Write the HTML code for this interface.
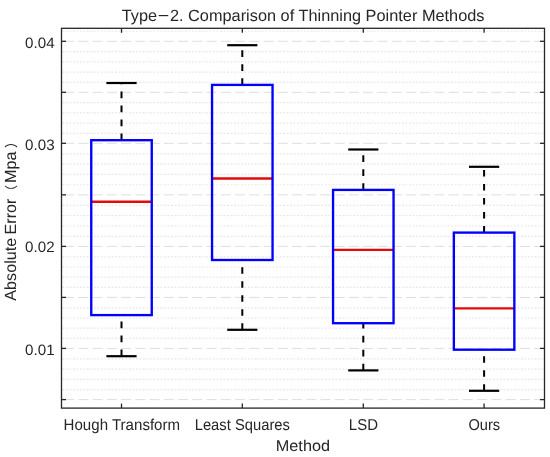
<!DOCTYPE html><html><head><meta charset="utf-8"><style>html,body{margin:0;padding:0;background:#fff;}svg{display:block;text-rendering:geometricPrecision;}text{font-family:"Liberation Sans","Noto Sans CJK SC",sans-serif;fill:#262626;}</style></head><body>
<svg width="550" height="457" viewBox="0 0 550 457">
<rect width="550" height="457" fill="#fff"/>
<line x1="62.5" y1="389.56" x2="543.5" y2="389.56" stroke="#ebe3e6" stroke-width="1.2" stroke-dasharray="1.75 1.75"/>
<line x1="62.5" y1="379.32" x2="543.5" y2="379.32" stroke="#ebe3e6" stroke-width="1.2" stroke-dasharray="1.75 1.75"/>
<line x1="62.5" y1="369.08" x2="543.5" y2="369.08" stroke="#ebe3e6" stroke-width="1.2" stroke-dasharray="1.75 1.75"/>
<line x1="62.5" y1="358.84" x2="543.5" y2="358.84" stroke="#ebe3e6" stroke-width="1.2" stroke-dasharray="1.75 1.75"/>
<line x1="62.5" y1="338.40" x2="543.5" y2="338.40" stroke="#ebe3e6" stroke-width="1.2" stroke-dasharray="1.75 1.75"/>
<line x1="62.5" y1="328.20" x2="543.5" y2="328.20" stroke="#ebe3e6" stroke-width="1.2" stroke-dasharray="1.75 1.75"/>
<line x1="62.5" y1="318.00" x2="543.5" y2="318.00" stroke="#ebe3e6" stroke-width="1.2" stroke-dasharray="1.75 1.75"/>
<line x1="62.5" y1="307.80" x2="543.5" y2="307.80" stroke="#ebe3e6" stroke-width="1.2" stroke-dasharray="1.75 1.75"/>
<line x1="62.5" y1="287.40" x2="543.5" y2="287.40" stroke="#ebe3e6" stroke-width="1.2" stroke-dasharray="1.75 1.75"/>
<line x1="62.5" y1="277.20" x2="543.5" y2="277.20" stroke="#ebe3e6" stroke-width="1.2" stroke-dasharray="1.75 1.75"/>
<line x1="62.5" y1="267.00" x2="543.5" y2="267.00" stroke="#ebe3e6" stroke-width="1.2" stroke-dasharray="1.75 1.75"/>
<line x1="62.5" y1="256.80" x2="543.5" y2="256.80" stroke="#ebe3e6" stroke-width="1.2" stroke-dasharray="1.75 1.75"/>
<line x1="62.5" y1="236.29" x2="543.5" y2="236.29" stroke="#ebe3e6" stroke-width="1.2" stroke-dasharray="1.75 1.75"/>
<line x1="62.5" y1="225.98" x2="543.5" y2="225.98" stroke="#ebe3e6" stroke-width="1.2" stroke-dasharray="1.75 1.75"/>
<line x1="62.5" y1="215.67" x2="543.5" y2="215.67" stroke="#ebe3e6" stroke-width="1.2" stroke-dasharray="1.75 1.75"/>
<line x1="62.5" y1="205.36" x2="543.5" y2="205.36" stroke="#ebe3e6" stroke-width="1.2" stroke-dasharray="1.75 1.75"/>
<line x1="62.5" y1="184.74" x2="543.5" y2="184.74" stroke="#ebe3e6" stroke-width="1.2" stroke-dasharray="1.75 1.75"/>
<line x1="62.5" y1="174.43" x2="543.5" y2="174.43" stroke="#ebe3e6" stroke-width="1.2" stroke-dasharray="1.75 1.75"/>
<line x1="62.5" y1="164.12" x2="543.5" y2="164.12" stroke="#ebe3e6" stroke-width="1.2" stroke-dasharray="1.75 1.75"/>
<line x1="62.5" y1="153.81" x2="543.5" y2="153.81" stroke="#ebe3e6" stroke-width="1.2" stroke-dasharray="1.75 1.75"/>
<line x1="62.5" y1="133.30" x2="543.5" y2="133.30" stroke="#ebe3e6" stroke-width="1.2" stroke-dasharray="1.75 1.75"/>
<line x1="62.5" y1="123.10" x2="543.5" y2="123.10" stroke="#ebe3e6" stroke-width="1.2" stroke-dasharray="1.75 1.75"/>
<line x1="62.5" y1="112.90" x2="543.5" y2="112.90" stroke="#ebe3e6" stroke-width="1.2" stroke-dasharray="1.75 1.75"/>
<line x1="62.5" y1="102.70" x2="543.5" y2="102.70" stroke="#ebe3e6" stroke-width="1.2" stroke-dasharray="1.75 1.75"/>
<line x1="62.5" y1="82.30" x2="543.5" y2="82.30" stroke="#ebe3e6" stroke-width="1.2" stroke-dasharray="1.75 1.75"/>
<line x1="62.5" y1="72.10" x2="543.5" y2="72.10" stroke="#ebe3e6" stroke-width="1.2" stroke-dasharray="1.75 1.75"/>
<line x1="62.5" y1="61.90" x2="543.5" y2="61.90" stroke="#ebe3e6" stroke-width="1.2" stroke-dasharray="1.75 1.75"/>
<line x1="62.5" y1="51.70" x2="543.5" y2="51.70" stroke="#ebe3e6" stroke-width="1.2" stroke-dasharray="1.75 1.75"/>
<line x1="62.5" y1="31.26" x2="543.5" y2="31.26" stroke="#ebe3e6" stroke-width="1.2" stroke-dasharray="1.75 1.75"/>
<line x1="62.5" y1="399.60" x2="543.5" y2="399.60" stroke="#dedede" stroke-width="1.0" stroke-dasharray="10 4.24" stroke-dashoffset="12.58"/>
<line x1="62.5" y1="348.40" x2="543.5" y2="348.40" stroke="#dedede" stroke-width="1.0" stroke-dasharray="10 4.24" stroke-dashoffset="12.58"/>
<line x1="62.5" y1="297.40" x2="543.5" y2="297.40" stroke="#dedede" stroke-width="1.0" stroke-dasharray="10 4.24" stroke-dashoffset="12.58"/>
<line x1="62.5" y1="246.40" x2="543.5" y2="246.40" stroke="#dedede" stroke-width="1.0" stroke-dasharray="10 4.24" stroke-dashoffset="12.58"/>
<line x1="62.5" y1="194.85" x2="543.5" y2="194.85" stroke="#dedede" stroke-width="1.0" stroke-dasharray="10 4.24" stroke-dashoffset="12.58"/>
<line x1="62.5" y1="143.30" x2="543.5" y2="143.30" stroke="#dedede" stroke-width="1.0" stroke-dasharray="10 4.24" stroke-dashoffset="12.58"/>
<line x1="62.5" y1="92.30" x2="543.5" y2="92.30" stroke="#dedede" stroke-width="1.0" stroke-dasharray="10 4.24" stroke-dashoffset="12.58"/>
<line x1="62.5" y1="41.30" x2="543.5" y2="41.30" stroke="#dedede" stroke-width="1.0" stroke-dasharray="10 4.24" stroke-dashoffset="12.58"/>
<line x1="121.5" y1="140.2" x2="121.5" y2="83.0" stroke="#000" stroke-width="2" stroke-dasharray="6.6 7.4"/>
<line x1="121.5" y1="356.2" x2="121.5" y2="315.1" stroke="#000" stroke-width="2" stroke-dasharray="6.6 7.4"/>
<line x1="106.4" y1="83.0" x2="136.6" y2="83.0" stroke="#000" stroke-width="2.2"/>
<line x1="106.4" y1="356.2" x2="136.6" y2="356.2" stroke="#000" stroke-width="2.2"/>
<line x1="91.25" y1="201.8" x2="151.75" y2="201.8" stroke="#e40a0a" stroke-width="2.4"/>
<rect x="91.25" y="140.2" width="60.5" height="174.90000000000003" fill="none" stroke="#0000ff" stroke-width="2.35"/>
<line x1="242.3" y1="84.9" x2="242.3" y2="45.2" stroke="#000" stroke-width="2" stroke-dasharray="6.6 7.4"/>
<line x1="242.3" y1="329.8" x2="242.3" y2="260.0" stroke="#000" stroke-width="2" stroke-dasharray="6.6 7.4"/>
<line x1="227.20000000000002" y1="45.2" x2="257.40000000000003" y2="45.2" stroke="#000" stroke-width="2.2"/>
<line x1="227.20000000000002" y1="329.8" x2="257.40000000000003" y2="329.8" stroke="#000" stroke-width="2.2"/>
<line x1="212.05" y1="178.5" x2="272.55" y2="178.5" stroke="#e40a0a" stroke-width="2.4"/>
<rect x="212.05" y="84.9" width="60.5" height="175.1" fill="none" stroke="#0000ff" stroke-width="2.35"/>
<line x1="363.3" y1="189.9" x2="363.3" y2="149.5" stroke="#000" stroke-width="2" stroke-dasharray="6.6 7.4"/>
<line x1="363.3" y1="370.4" x2="363.3" y2="323.2" stroke="#000" stroke-width="2" stroke-dasharray="6.6 7.4"/>
<line x1="348.2" y1="149.5" x2="378.40000000000003" y2="149.5" stroke="#000" stroke-width="2.2"/>
<line x1="348.2" y1="370.4" x2="378.40000000000003" y2="370.4" stroke="#000" stroke-width="2.2"/>
<line x1="333.05" y1="249.9" x2="393.55" y2="249.9" stroke="#e40a0a" stroke-width="2.4"/>
<rect x="333.05" y="189.9" width="60.5" height="133.29999999999998" fill="none" stroke="#0000ff" stroke-width="2.35"/>
<line x1="484.1" y1="232.6" x2="484.1" y2="166.8" stroke="#000" stroke-width="2" stroke-dasharray="6.6 7.4"/>
<line x1="484.1" y1="390.8" x2="484.1" y2="349.7" stroke="#000" stroke-width="2" stroke-dasharray="6.6 7.4"/>
<line x1="469.0" y1="166.8" x2="499.20000000000005" y2="166.8" stroke="#000" stroke-width="2.2"/>
<line x1="469.0" y1="390.8" x2="499.20000000000005" y2="390.8" stroke="#000" stroke-width="2.2"/>
<line x1="453.85" y1="308.4" x2="514.35" y2="308.4" stroke="#e40a0a" stroke-width="2.4"/>
<rect x="453.85" y="232.6" width="60.5" height="117.1" fill="none" stroke="#0000ff" stroke-width="2.35"/>
<rect x="61.5" y="28.3" width="483.0" height="379.8" fill="none" stroke="#262626" stroke-width="1.3"/>
<line x1="61.5" y1="399.60" x2="66.0" y2="399.60" stroke="#262626" stroke-width="1.3"/>
<line x1="544.5" y1="399.60" x2="540.0" y2="399.60" stroke="#262626" stroke-width="1.3"/>
<line x1="61.5" y1="348.40" x2="66.0" y2="348.40" stroke="#262626" stroke-width="1.3"/>
<line x1="544.5" y1="348.40" x2="540.0" y2="348.40" stroke="#262626" stroke-width="1.3"/>
<line x1="61.5" y1="297.40" x2="66.0" y2="297.40" stroke="#262626" stroke-width="1.3"/>
<line x1="544.5" y1="297.40" x2="540.0" y2="297.40" stroke="#262626" stroke-width="1.3"/>
<line x1="61.5" y1="246.40" x2="66.0" y2="246.40" stroke="#262626" stroke-width="1.3"/>
<line x1="544.5" y1="246.40" x2="540.0" y2="246.40" stroke="#262626" stroke-width="1.3"/>
<line x1="61.5" y1="194.85" x2="66.0" y2="194.85" stroke="#262626" stroke-width="1.3"/>
<line x1="544.5" y1="194.85" x2="540.0" y2="194.85" stroke="#262626" stroke-width="1.3"/>
<line x1="61.5" y1="143.30" x2="66.0" y2="143.30" stroke="#262626" stroke-width="1.3"/>
<line x1="544.5" y1="143.30" x2="540.0" y2="143.30" stroke="#262626" stroke-width="1.3"/>
<line x1="61.5" y1="92.30" x2="66.0" y2="92.30" stroke="#262626" stroke-width="1.3"/>
<line x1="544.5" y1="92.30" x2="540.0" y2="92.30" stroke="#262626" stroke-width="1.3"/>
<line x1="61.5" y1="41.30" x2="66.0" y2="41.30" stroke="#262626" stroke-width="1.3"/>
<line x1="544.5" y1="41.30" x2="540.0" y2="41.30" stroke="#262626" stroke-width="1.3"/>
<line x1="121.5" y1="408.1" x2="121.5" y2="403.6" stroke="#262626" stroke-width="1.3"/>
<line x1="121.5" y1="28.3" x2="121.5" y2="32.8" stroke="#262626" stroke-width="1.3"/>
<line x1="242.3" y1="408.1" x2="242.3" y2="403.6" stroke="#262626" stroke-width="1.3"/>
<line x1="242.3" y1="28.3" x2="242.3" y2="32.8" stroke="#262626" stroke-width="1.3"/>
<line x1="363.3" y1="408.1" x2="363.3" y2="403.6" stroke="#262626" stroke-width="1.3"/>
<line x1="363.3" y1="28.3" x2="363.3" y2="32.8" stroke="#262626" stroke-width="1.3"/>
<line x1="484.1" y1="408.1" x2="484.1" y2="403.6" stroke="#262626" stroke-width="1.3"/>
<line x1="484.1" y1="28.3" x2="484.1" y2="32.8" stroke="#262626" stroke-width="1.3"/>
<text id="title" y="20.6" font-size="16.3"><tspan id="t_type" x="121.8">Type</tspan><tspan id="t_minus" x="157.65" textLength="11.42" lengthAdjust="spacingAndGlyphs">−</tspan><tspan id="t_rest" x="169.9" textLength="314.56" lengthAdjust="spacing">2. Comparison of Thinning Pointer Methods</tspan></text>
<text id="gy4" transform="translate(25.1,48) scale(1.01,1)" font-size="15"><tspan id="y4" x="0">0.04</tspan></text>
<text id="gy3" transform="translate(25.1,150) scale(1.01,1)" font-size="15"><tspan id="y3" x="0">0.03</tspan></text>
<text id="gy2" transform="translate(25.1,252.2) scale(1.01,1)" font-size="15"><tspan id="y2" x="0">0.02</tspan></text>
<text id="gy1" transform="translate(25.1,354.9) scale(1.01,1)" font-size="15"><tspan id="y1" x="0">0.01</tspan></text>
<text id="gx0" transform="translate(63.6,429.9) scale(1.0050,1.05)" font-size="15"><tspan id="x0" x="0">Hough Transform</tspan></text>
<text id="gx1" transform="translate(194.7,429.9) scale(0.9840,1.05)" font-size="15"><tspan id="x1" x="0">Least Squares</tspan></text>
<text id="gx2" transform="translate(348.8,429.9) scale(1.0000,1.05)" font-size="15"><tspan id="x2" x="0">LSD</tspan></text>
<text id="gx3" transform="translate(468.4,429.9) scale(0.9740,1.05)" font-size="15"><tspan id="x3" x="0">Ours</tspan></text>
<text id="gxl" transform="translate(275.8,450.8) scale(1.042,1)" font-size="15.6"><tspan id="xl" x="0">Method</tspan></text>
<text id="ylab" transform="translate(16.3,0) rotate(-90)" font-size="16.2"><tspan id="yl_abs" x="-300.7" y="0">Absolute </tspan><tspan id="yl_err" x="-234.55" y="0">Error</tspan><tspan id="yl_lp" x="-198.1" y="0" font-size="13.2" font-family="Noto Sans CJK SC">（</tspan><tspan id="yl_mpa" x="-183.0" y="0">Mpa</tspan><tspan id="yl_rp" x="-148.1" y="0" font-size="13.2" font-family="Noto Sans CJK SC">）</tspan></text>
</svg></body></html>
